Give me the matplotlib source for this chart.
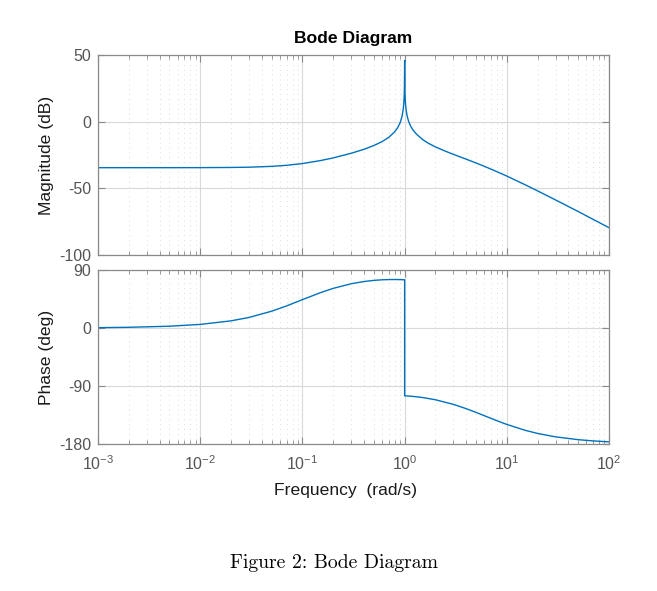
import numpy as np
import matplotlib.pyplot as plt
from matplotlib.ticker import LogLocator, NullFormatter

plt.rcParams['font.family'] = ['Liberation Sans', 'DejaVu Sans']
plt.rcParams['axes.unicode_minus'] = False
plt.rcParams['mathtext.fontset'] = 'custom'
plt.rcParams['mathtext.rm'] = 'Liberation Sans'
plt.rcParams['mathtext.it'] = 'Liberation Sans:italic'

# magnitude (rad/s, dB)
mag_freq = [0.001, 0.002, 0.005, 0.01, 0.02, 0.03, 0.05, 0.07, 0.1, 0.15,
            0.2, 0.3, 0.4, 0.5, 0.6, 0.7, 0.8, 0.85, 0.9, 0.93,
            0.95, 0.97, 0.98, 0.99, 0.995, 0.999, 1.0, 1.001, 1.005, 1.01,
            1.02, 1.03, 1.05, 1.07, 1.1, 1.15, 1.2, 1.3, 1.5, 1.7,
            2, 2.5, 3, 4, 5, 6, 8, 10, 15, 20,
            30, 50, 70, 100]
mag_db = [-34.5, -34.5, -34.49, -34.46, -34.33, -34.13, -33.51, -32.73, -31.4, -29.18,
          -27.16, -23.69, -20.71, -17.88, -14.99, -11.72, -7.57, -4.81, -1.04, 2.21,
          5.21, 9.74, 13.31, 19.37, 25.39, 39.36, 46.0, 39.4, 25.44, 19.45,
          13.46, 9.98, 5.62, 2.77, -0.23, -3.58, -5.93, -9.18, -13.4, -16.1,
          -18.9, -22.1, -24.5, -28.1, -31.0, -33.4, -37.5, -40.8, -47.2, -51.9,
          -58.7, -67.4, -73.3, -79.5]

# phase (rad/s, deg)
ph_freq = [0.001, 0.002, 0.005, 0.01, 0.02, 0.03, 0.05, 0.07, 0.1, 0.15,
           0.2, 0.3, 0.4, 0.5, 0.6, 0.7, 0.8, 0.9, 0.95, 0.99,
           1.0, 1.0, 1.01, 1.1, 1.2, 1.5, 2, 3, 4, 5,
           6, 8, 10, 15, 20, 30, 50, 70, 100]
ph_deg = [0.56, 1.13, 2.81, 5.62, 11.12, 16.41, 26.09, 34.32, 44.05, 54.88,
          61.52, 68.71, 72.15, 73.93, 74.83, 75.22, 75.28, 75.13, 75.0, 74.86,
          74.81, -105.17, -105.2, -105.58, -106.07, -107.85, -111.29, -118.48, -125.12, -130.96,
          -135.95, -143.85, -149.61, -158.58, -163.59, -168.88, -173.27, -175.18, -176.63]

mag_ticks = [-100, -50, 0, 50]
ph_ticks = [-180, -90, 0, 90]

line_col = '#0072BD'
box_col = '#8a8a8a'
tick_col = '#555555'

fig = plt.figure(figsize=(6.57, 5.91), dpi=100)
ax1 = fig.add_axes([0.1492, 0.5685, 0.7778, 0.3384])
ax2 = fig.add_axes([0.1492, 0.2487, 0.7778, 0.2944])

for ax in (ax1, ax2):
    ax.set_xscale('log')
    ax.set_xlim(1e-3, 1e2)
    ax.xaxis.set_major_locator(LogLocator(base=10, numticks=10))
    ax.xaxis.set_minor_locator(LogLocator(base=10, subs=np.arange(2, 10), numticks=10))
    ax.xaxis.set_minor_formatter(NullFormatter())
    ax.grid(True, which='major', color='#d9d9d9', linewidth=0.8, linestyle='-')
    ax.grid(True, which='minor', axis='x', color='#dcdcdc', linewidth=0.7, linestyle=(0, (1, 4)))
    ax.set_axisbelow(True)
    ax.tick_params(which='both', direction='in', top=True, right=True,
                   colors=box_col, labelcolor=tick_col, labelsize=11.5, pad=5)
    ax.tick_params(which='major', length=5)
    ax.tick_params(which='minor', length=3)
    for s in ax.spines.values():
        s.set_color(box_col)
        s.set_linewidth(0.9)

ax1.plot(mag_freq, mag_db, color=line_col, linewidth=1.0)
ax1.set_ylim(-100, 50)
ax1.set_yticks(mag_ticks)
ax1.tick_params(labelbottom=False)
ax1.set_ylabel('Magnitude (dB)', fontsize=12.6, color='#1a1a1a')
ax1.yaxis.set_label_coords(-0.086, 0.5)
ax1.set_title('Bode Diagram', fontsize=12.6, fontweight='bold', pad=8.5)

ax2.plot(ph_freq, ph_deg, color=line_col, linewidth=1.0)
ax2.set_ylim(-180, 90)
ax2.set_yticks(ph_ticks)
ax2.set_ylabel('Phase (deg)', fontsize=12.6, color='#1a1a1a')
ax2.yaxis.set_label_coords(-0.086, 0.5)
ax2.set_xlabel('Frequency  (rad/s)', fontsize=12.6, color='#1a1a1a')
ax2.xaxis.set_label_coords(0.484, -0.225)
ax2.tick_params(axis='x', pad=7.5)

fig.text(0.508, 0.047, 'Figure 2: Bode Diagram', ha='center', va='center',
         fontsize=14.2, family='cmr10')

fig.savefig('out.png', dpi=100, facecolor='white')
